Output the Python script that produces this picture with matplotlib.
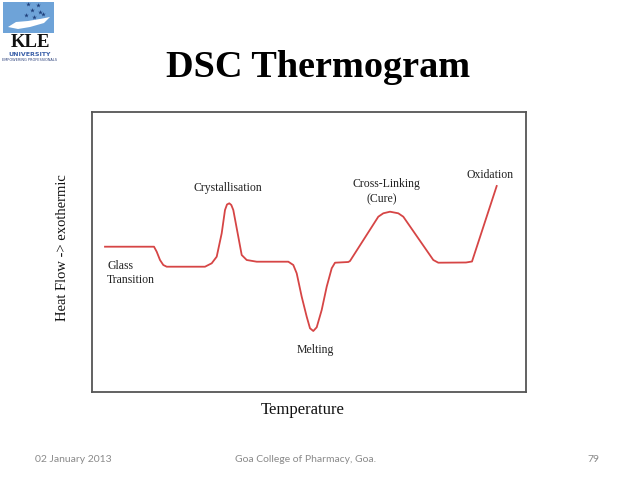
import matplotlib
matplotlib.use("Agg")
import matplotlib.pyplot as plt
from matplotlib.patches import Rectangle, Polygon

# DSC curve (arbitrary temperature / heat-flow units)
temp = [13, 62, 64.7, 68, 71.3, 74.7, 113, 119.7, 124.7, 129.7, 133, 135, 137.3,
        139.3, 141.3, 146.3, 149.7, 154.7, 164.7, 196.3, 201.3, 204.7, 209.7,
        214.7, 218, 221.3, 224.7, 229.7, 234.7, 239.7, 243, 256.3, 258, 286.3,
        291.3, 298, 306.3, 311.3, 341.3, 346.3, 374, 380, 404.7]
heat = [145.3, 145.3, 140.3, 132, 127, 125.3, 125.3, 128.7, 135.3, 158.7, 182,
        187.5, 188.7, 187, 182, 155.3, 137, 132, 130.3, 130.3, 127, 118.7, 95.3,
        75.3, 63.7, 61, 64.7, 82, 105.3, 123.7, 129.3, 130, 131, 175.3, 178.7,
        180.3, 178.7, 175.3, 132, 129.3, 129.5, 130.5, 206]

# event labels: text, x, y
labels = [("Glass\nTransition", 15, 119, "left"),
          ("Crystallisation", 136, 204, "center"),
          ("Melting", 223, 42, "center"),
          ("Cross-Linking", 294, 208, "center"),
          ("(Cure)", 290, 193, "center"),
          ("Oxidation", 398, 217, "center")]

W, H = 638, 479
fig = plt.figure(figsize=(W / 100, H / 100), dpi=100)
fig.patch.set_facecolor("white")

# chart box
x0, y0, x1, y1 = 92, 112, 526, 392
ax = fig.add_axes([x0 / W, 1 - y1 / H, (x1 - x0) / W, (y1 - y0) / H])
ax.plot(temp, heat, color="#d64545", lw=1.3, solid_joinstyle="round")
ax.set_xlim(0, x1 - x0)
ax.set_ylim(0, y1 - y0)
ax.set_xticks([])
ax.set_yticks([])
for s in ax.spines.values():
    s.set_color("#555555")
    s.set_linewidth(1.3)

serif = "Liberation Serif"
for txt, lx, ly, ha in labels:
    ax.text(lx, ly, txt, ha=ha, va="center", fontsize=8.5, family=serif,
            color="#222222", linespacing=1.25)

# decorations in pixel coordinates
deco = fig.add_axes([0, 0, 1, 1], zorder=-1)
deco.set_xlim(0, W)
deco.set_ylim(H, 0)
deco.axis("off")

deco.text(318, 76.5, "DSC Thermogram", ha="center", va="baseline",
          fontsize=27.5, family=serif, weight="bold", color="black")
deco.text(303, 410, "Temperature", ha="center", va="center",
          fontsize=12, family=serif, color="#111111")
deco.text(62, 248, "Heat Flow -> exothermic", ha="center", va="center",
          rotation=90, fontsize=10.5, family=serif, color="#111111")

foot = dict(fontsize=7.5, family="Lato", color="#8a8a8a", va="center")
deco.text(35, 459, "02 January 2013", ha="left", **foot)
deco.text(306, 459, "Goa College of Pharmacy, Goa.", ha="center", **foot)
deco.text(599, 459, "79", ha="right", **foot)

# logo
deco.add_patch(Rectangle((3, 2), 51, 31, facecolor="#6ea3d8", edgecolor="none"))
deco.add_patch(Polygon([(8, 27), (16, 22), (28, 21), (40, 19), (50, 17),
                        (44, 23), (30, 27), (18, 29)],
                       closed=True, facecolor="white", edgecolor="none"))
for sx, sy in [(28, 4), (38, 5), (32, 10), (40, 12), (26, 15), (34, 17), (43, 14)]:
    deco.plot(sx, sy, marker="*", ms=3.5, color="#1f3f7a", mec="none")
deco.text(30, 46.5, "KLE", ha="center", va="baseline", fontsize=13.5,
          family=serif, weight="bold", color="#111111")
deco.text(30, 54.5, "UNIVERSITY", ha="center", va="center", fontsize=4.5,
          family="DejaVu Sans", weight="bold", color="#3a5fa8")
deco.text(30, 59.5, "EMPOWERING PROFESSIONALS", ha="center", va="center",
          fontsize=2.5, family="DejaVu Sans", color="#2a3f7a")

fig.savefig("out.png", dpi=100)
